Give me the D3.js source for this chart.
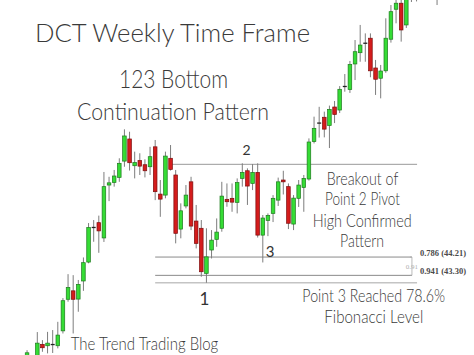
<!DOCTYPE html>
<html>
<head>
<meta charset="utf-8">
<script src="https://cdn.jsdelivr.net/npm/d3@7"></script>
<style>
  html, body { margin: 0; padding: 0; background: #fff; }
  svg { display: block; }
  text { font-family: Lato, "Open Sans", sans-serif; fill: #3a3a3a; }
</style>
</head>
<body>
<svg width="474" height="355"></svg>
<script>
// weekly candles, oldest first (prices)
const openP = [39.19, 39.00, 38.99, 39.87, 39.80, 39.86, 39.80, 40.54, 42.11, 42.53,
  42.12, 43.02, 43.96, 45.68, 45.92, 45.16, 47.79, 47.92, 48.17, 48.98,
  50.08, 48.75, 49.01, 48.80, 48.70, 49.69, 47.34, 47.29, 49.12, 48.29,
  45.60, 46.75, 47.95, 46.00, 45.64, 43.40, 44.56, 45.09, 45.64, 47.08,
  47.13, 46.93, 48.12, 48.50, 47.87, 48.42, 45.30, 46.03, 46.38, 47.04,
  48.04, 47.71, 45.85, 47.13, 47.67, 48.09, 49.95, 50.87, 51.16, 50.75,
  51.67, 51.52, 52.69, 52.54, 53.81, 54.37, 54.84, 55.09, 53.61, 53.10,
  53.47, 55.04, 56.53, 56.83, 55.75, 57.30, 58.00, 57.60, 58.30, 58.00, 57.50];
const highP = [39.58, 39.30, 40.48, 40.08, 40.49, 40.58, 40.99, 42.17, 43.36, 43.31,
  43.07, 44.19, 45.90, 46.05, 46.27, 48.44, 48.20, 48.54, 49.12, 50.56,
  50.44, 49.45, 49.37, 49.07, 49.69, 50.03, 48.04, 49.45, 49.78, 48.54,
  46.88, 47.79, 48.20, 46.80, 46.05, 45.64, 45.55, 46.13, 47.95, 47.87,
  47.87, 48.12, 48.87, 48.62, 48.83, 48.87, 46.30, 46.38, 47.29, 48.16,
  48.50, 47.87, 47.29, 48.04, 48.29, 50.11, 51.19, 51.68, 51.44, 51.74,
  51.97, 52.71, 53.31, 53.96, 55.00, 55.75, 55.33, 55.33, 54.01, 53.76,
  56.08, 56.74, 57.14, 57.14, 57.50, 58.20, 58.40, 58.60, 58.80, 58.90, 58.00];
const lowP = [39.09, 38.90, 38.84, 39.50, 39.42, 39.44, 39.67, 40.41, 41.99, 40.41,
  41.49, 42.53, 43.90, 44.97, 44.42, 44.96, 46.99, 47.71, 47.95, 48.70,
  48.51, 48.12, 48.29, 48.17, 48.29, 47.04, 46.21, 47.13, 48.51, 44.89,
  45.14, 46.63, 45.55, 44.64, 43.23, 42.93, 44.14, 44.72, 45.47, 46.71,
  46.46, 46.38, 47.71, 46.80, 47.54, 45.18, 43.94, 45.25, 45.95, 46.75,
  47.32, 45.60, 45.55, 46.70, 46.46, 48.01, 49.86, 50.15, 50.16, 49.63,
  50.87, 51.37, 52.43, 52.37, 53.01, 53.92, 53.92, 53.15, 52.27, 52.10,
  53.37, 54.87, 55.83, 54.92, 55.60, 56.89, 56.92, 57.30, 57.50, 57.40, 56.74];
const closeP = [39.45, 39.20, 39.93, 39.70, 39.93, 39.86, 40.33, 42.04, 42.70, 42.11,
  42.85, 43.93, 45.68, 45.68, 45.51, 47.71, 47.90, 48.24, 48.87, 50.23,
  48.90, 48.91, 48.73, 48.50, 49.20, 47.46, 47.09, 49.23, 48.57, 45.39,
  46.51, 47.29, 45.75, 44.89, 43.48, 44.22, 45.05, 45.45, 47.24, 46.96,
  46.94, 47.91, 48.42, 47.74, 48.42, 45.30, 46.15, 46.28, 47.13, 47.95,
  47.95, 45.89, 47.14, 47.79, 48.12, 49.93, 50.61, 50.87, 50.57, 51.55,
  51.30, 52.55, 52.69, 53.78, 54.42, 54.75, 54.84, 53.47, 53.05, 53.46,
  55.09, 56.41, 56.83, 55.50, 57.24, 57.80, 57.40, 58.30, 58.00, 58.60, 57.30];

// fibonacci levels drawn on the chart: point 2 high, 0.786, 0.941, point 1 low
const fibPrices = [48.82, 44.21, 43.30, 42.93];
const fibLabels = ["", "0.786 (44.21)", "0.941 (43.30)", ""];

const candles = openP.map((o, i) => ({
  i: i, open: o, high: highP[i], low: lowP[i], close: closeP[i]
}));

const svg = d3.select("svg");

let x = d3.scaleLinear()
  .domain([0, candles.length - 1])
  .range([27.05, 437.05]);
let y = d3.scaleLinear()
  .domain([39.34, 56.99])
  .range([355, 0]);

// horizontal levels (start / end in candle index)
const levelSpan = [[26.3, 74.1], [23.0, 73.1], [23.0, 73.1], [23.0, 74.1]];
const levelColor = ["#9a9a9a", "#8a8a8a", "#8a8a8a", "#c4c4c4"];
svg.append("g")
  .selectAll("line")
  .data(fibPrices)
  .join("line")
  .attr("x1", (d, i) => x(levelSpan[i][0] + 2))
  .attr("x2", (d, i) => x(levelSpan[i][1] + 2))
  .attr("y1", d => y(d))
  .attr("y2", d => y(d))
  .style("stroke", (d, i) => levelColor[i])
  .style("stroke-width", (d, i) => i == 3 ? 1.6 : 1);

// candles
let cg = svg.append("g");
cg.selectAll("line.wick")
  .data(candles)
  .join("line")
  .attr("class", "wick")
  .attr("x1", d => x(d.i))
  .attr("x2", d => x(d.i))
  .attr("y1", d => y(d.high))
  .attr("y2", d => y(d.low))
  .style("stroke", "#7d7d7d")
  .style("stroke-width", 1);

cg.selectAll("rect")
  .data(candles.filter(d => d.open != d.close))
  .join("rect")
  .attr("x", d => x(d.i) - 1.8)
  .attr("width", 3.6)
  .attr("y", d => y(Math.max(d.open, d.close)))
  .attr("height", d => Math.max(1.2, Math.abs(y(d.open) - y(d.close))))
  .style("fill", d => d.close > d.open ? "#35dc35" : "#d41c1c")
  .style("stroke", d => d.close > d.open ? "#1d7a1d" : "#7c0c0c")
  .style("stroke-width", 0.7);

cg.selectAll("line.doji")
  .data(candles.filter(d => d.open == d.close))
  .join("line")
  .attr("class", "doji")
  .attr("x1", d => x(d.i) - 2)
  .attr("x2", d => x(d.i) + 2)
  .attr("y1", d => y(d.open))
  .attr("y2", d => y(d.open))
  .style("stroke", "#222")
  .style("stroke-width", 1.3);

// bracket between 0.786 and 0.941
let bx = x(73.1 + 2);
svg.append("path")
  .attr("d", `M${bx - 2},${y(fibPrices[1])}H${bx}V${y(fibPrices[2])}H${bx - 2}`)
  .style("fill", "none")
  .style("stroke", "#a8a8a8")
  .style("stroke-width", 0.8);
svg.append("text")
  .attr("x", bx + 6)
  .attr("y", y(fibPrices[2]) - 6)
  .attr("text-anchor", "end")
  .style("font-family", "'Liberation Serif', serif")
  .style("font-size", "7px")
  .style("fill", "#b0b0b0")
  .text("0.91");

svg.append("g")
  .selectAll("text")
  .data(fibPrices.filter((d, i) => fibLabels[i] != ""))
  .join("text")
  .attr("x", 420)
  .attr("y", d => y(d) - 1)
  .attr("textLength", 46)
  .attr("lengthAdjust", "spacingAndGlyphs")
  .style("font-family", "'Liberation Serif', serif")
  .style("font-size", "8px")
  .style("font-weight", "bold")
  .style("fill", "#4a4a4a")
  .text(d => fibLabels[fibPrices.indexOf(d)]);

// text blocks
const notes = [
  { t: "DCT Weekly Time Frame", x: 172.5, y: 41.7, s: 26, w: 275 },
  { t: "123 Bottom", x: 173.5, y: 88.3, s: 25, w: 109 },
  { t: "Continuation Pattern", x: 173, y: 119.5, s: 24, w: 192 },
  { t: "Breakout of", x: 362.5, y: 185, s: 18, w: 71.5 },
  { t: "Point 2 Pivot", x: 362.5, y: 205, s: 18, w: 75 },
  { t: "High Confirmed", x: 362.2, y: 226.7, s: 18, w: 99 },
  { t: "Pattern", x: 362, y: 246.7, s: 18, w: 44 },
  { t: "Point 3 Reached 78.6%", x: 373.7, y: 301.7, s: 18, w: 142.7 },
  { t: "Fibonacci Level", x: 373.8, y: 322.7, s: 18, w: 99 },
  { t: "The Trend Trading Blog", x: 144.5, y: 350, s: 18, w: 147.6 }
];
svg.append("g")
  .selectAll("text")
  .data(notes)
  .join("text")
  .attr("x", d => d.x)
  .attr("y", d => d.y)
  .attr("text-anchor", "middle")
  .attr("textLength", d => d.w)
  .attr("lengthAdjust", "spacingAndGlyphs")
  .style("font-size", d => d.s + "px")
  .style("font-weight", 300)
  .text(d => d.t);

// pivot labels
const pivots = [
  { t: "1", x: 204.5, y: 305, s: 17 },
  { t: "2", x: 246.5, y: 155, s: 14 },
  { t: "3", x: 270, y: 257, s: 15 }
];
svg.append("g")
  .selectAll("text")
  .data(pivots)
  .join("text")
  .attr("x", d => d.x)
  .attr("y", d => d.y)
  .attr("text-anchor", "middle")
  .style("font-size", d => d.s + "px")
  .style("fill", "#333")
  .text(d => d.t);
</script>
</body>
</html>
